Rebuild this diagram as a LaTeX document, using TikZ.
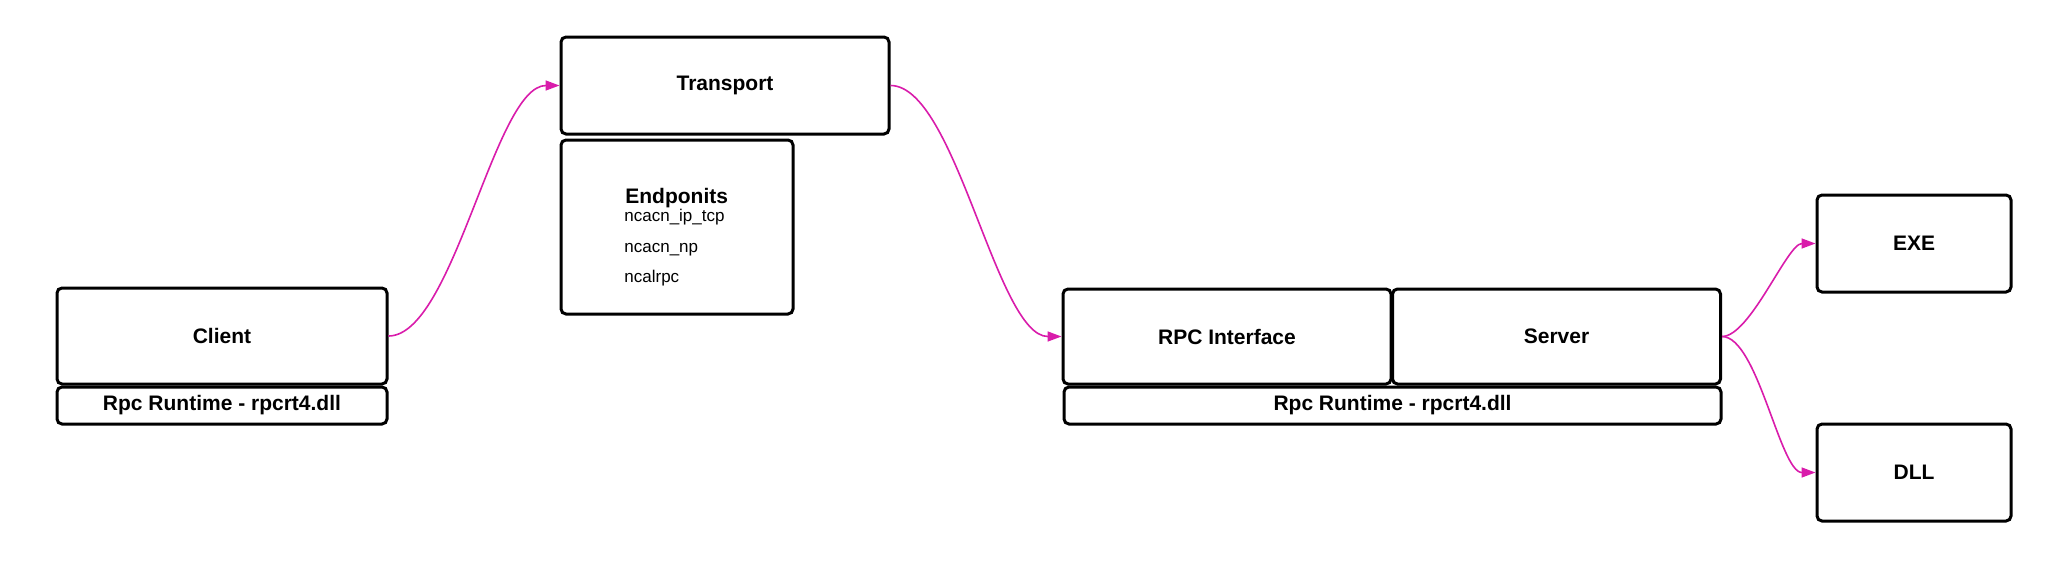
\documentclass[tikz,border=0pt]{standalone}
\usepackage{fontspec}
\setmainfont{Liberation Sans}
\usetikzlibrary{
	arrows.meta,
	positioning
}
\definecolor{linkpink}{RGB}{217,28,171}

\begin{document}
\begin{tikzpicture}[
		x=0.5pt, y=-0.5pt,
		box/.style={draw, rectangle, rounded corners=2.5pt, line width=1.5pt, align=center, inner sep=0pt, font=\fontsize{10.5}{12.6}\selectfont\bfseries},
		bar/.style={box, minimum height=18.5pt},
		item/.style={anchor=base west, inner sep=0pt, font=\fontsize{8.5}{10}\selectfont},
		link/.style={-{Triangle[length=7pt, width=5pt]}, line width=0.8pt, color=linkpink, out=0, in=180, looseness=0.55},
		node distance=0pt
		]
		
		\useasboundingbox (0,0) rectangle (2048,563);
		
		% Client
		\node[box, minimum width=165pt, minimum height=48pt] (client) at (222,336) {Client};
		\node[bar, below=of client, minimum width=165pt] (clientrt) {Rpc Runtime - rpcrt4.dll};
		
		% Transport and endpoints
		\node[box, minimum width=164pt, minimum height=48.5pt] (transport) at (725,85.5) {Transport};
		\node[box, below right=1.5pt and 0pt of transport.south west, minimum width=116pt, minimum height=87pt] (endpoints) {};
		\node[item, font=\fontsize{10.5}{12.6}\selectfont\bfseries] (eptitle) at (625,203) {Endponits};
		\node[item] (tcp) at (624,221) {ncacn\_ip\_tcp};
		\node[item] (np) at (624,252) {ncacn\_np};
		\node[item] (lrpc) at (624,282) {ncalrpc};
		
		% Server side
		\node[box, minimum width=164pt, minimum height=47.5pt] (rpcif) at (1227,336.5) {RPC Interface};
		\node[box, right=-0.75pt of rpcif, minimum width=164pt, minimum height=47.5pt] (server) {Server};
		\node[bar, below=of rpcif.south east, minimum width=328.5pt] (serverrt) {Rpc Runtime - rpcrt4.dll};
		
		% Hosts
		\node[box, minimum width=97pt, minimum height=48.5pt] (exe) at (1914,243.5) {EXE};
		\node[box, minimum width=97pt, minimum height=48.5pt] (dll) at (1914,472.5) {DLL};
		
		% Links
		\draw[link] (client.east) to (transport.west);
		\draw[link] (transport.east) to (rpcif.west);
		\draw[link] (server.east) to (exe.west);
		\draw[link] (server.east) to (dll.west);
		
	\end{tikzpicture}
\end{document}
